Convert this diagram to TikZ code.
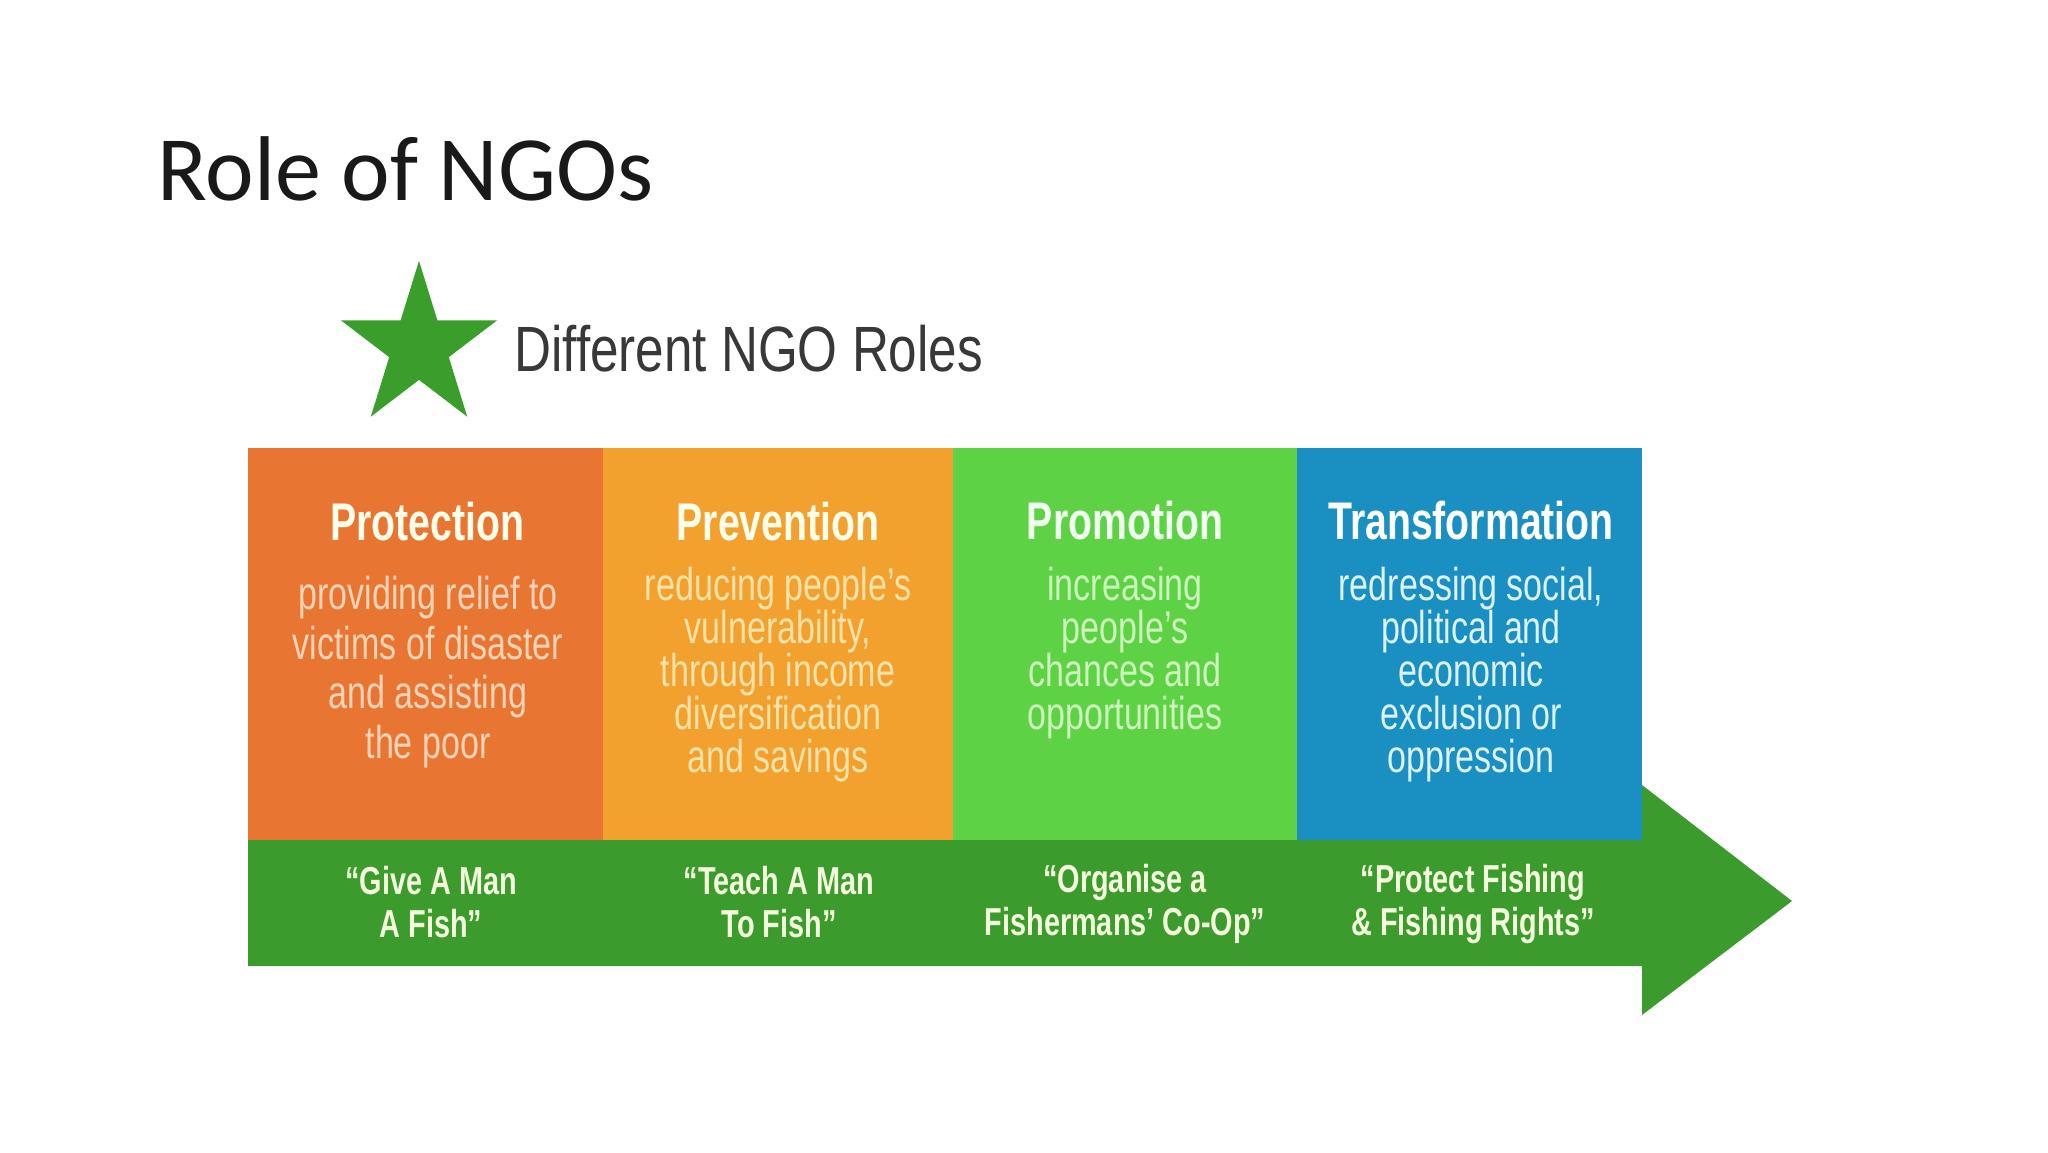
\documentclass[tikz,border=0pt]{standalone}
\usepackage{fontspec}
\setmainfont{Liberation Sans}
\newfontfamily\slidefont{Carlito}
\newfontfamily\condfont[FakeStretch=0.74]{Liberation Sans}
\newfontfamily\capfont[FakeStretch=0.8]{Liberation Sans}
\usetikzlibrary{shapes.geometric}

\definecolor{protC}{HTML}{E97532}
\definecolor{prevC}{HTML}{F2A12E}
\definecolor{promC}{HTML}{5DD244}
\definecolor{tranC}{HTML}{1A8FC2}
\definecolor{barC}{HTML}{3B9B2C}
\definecolor{starC}{HTML}{3A9E2A}
\definecolor{protT}{HTML}{F9D3B6}
\definecolor{prevT}{HTML}{F9E2A8}
\definecolor{promT}{HTML}{CDF2BC}
\definecolor{tranT}{HTML}{DCF1FA}
\definecolor{quoteT}{HTML}{F4FADC}

\newcommand{\tightlines}{\lineskiplimit-10pt\relax}

\begin{document}
\begin{tikzpicture}[
    x=0.5pt, y=-0.5pt,
    head/.style={inner sep=0pt, font=\condfont\bfseries\fontsize{26.5}{30}\selectfont},
    desc/.style={align=center, inner sep=0pt, font=\condfont\fontsize{23}{21.5}\selectfont\tightlines},
    descwide/.style={desc, font=\condfont\fontsize{23}{24.8}\selectfont\tightlines},
    quote/.style={align=center, inner sep=0pt, text=quoteT, font=\condfont\bfseries\fontsize{19.5}{21.5}\selectfont\tightlines}
]
    \fill[white] (0,0) rectangle (2048,1152);
    \useasboundingbox (0,0) rectangle (2048,1152);

    \node[anchor=base west, inner sep=0pt, text=black!90, font=\slidefont\fontsize{46}{56}\selectfont] (title) at (157,200) {Role of NGOs};

    \node[star, star points=5, star point ratio=2.618, fill=starC, inner sep=0pt, minimum size=82pt, yscale=1.05] (star) at (419,347) {};
    \node[anchor=west, inner sep=0pt, text=black!78, font=\capfont\fontsize{32}{38}\selectfont] (roles) at (514,349) {Different NGO Roles};

    % columns and arrow band
    \fill[protC] (248,448) rectangle (603,840);
    \fill[prevC] (603,448) rectangle (953,840);
    \fill[promC] (953,448) rectangle (1297,840);
    \fill[tranC] (1297,448) rectangle (1642,840);
    \fill[barC] (248,840) -- (1642,840) -- (1642,785) -- (1792,901) -- (1642,1015) -- (1642,966) -- (248,966) -- cycle;

    \node[head, text=white!92!yellow] (protH) at (427,522) {Protection};
    \node[head, text=white!92!yellow] (prevH) at (778,522) {Prevention};
    \node[head, text=white!94!green] (promH) at (1125,521) {Promotion};
    \node[head, text=white] (tranH) at (1471,521) {Transformation};

    \node[descwide, text=protT] (protD) at (428,672) {providing relief to\\victims of disaster\\and assisting\\the poor};
    \node[desc, text=prevT] (prevD) at (778,675) {reducing people’s\\vulnerability,\\through income\\diversification\\and savings};
    \node[desc, text=promT] (promD) at (1125,653) {increasing\\people’s\\chances and\\opportunities};
    \node[desc, text=tranT] (tranD) at (1471,675) {redressing social,\\political and\\economic\\exclusion or\\oppression};

    \node[quote] (protQ) at (431,902) {“Give A Man\\A Fish”};
    \node[quote] (prevQ) at (779,902) {“Teach A Man\\To Fish”};
    \node[quote] (promQ) at (1125,904) {“Organise a\\Fishermans’ Co-Op”};
    \node[quote] (tranQ) at (1473,904) {“Protect Fishing\\\& Fishing Rights”};
\end{tikzpicture}
\end{document}
